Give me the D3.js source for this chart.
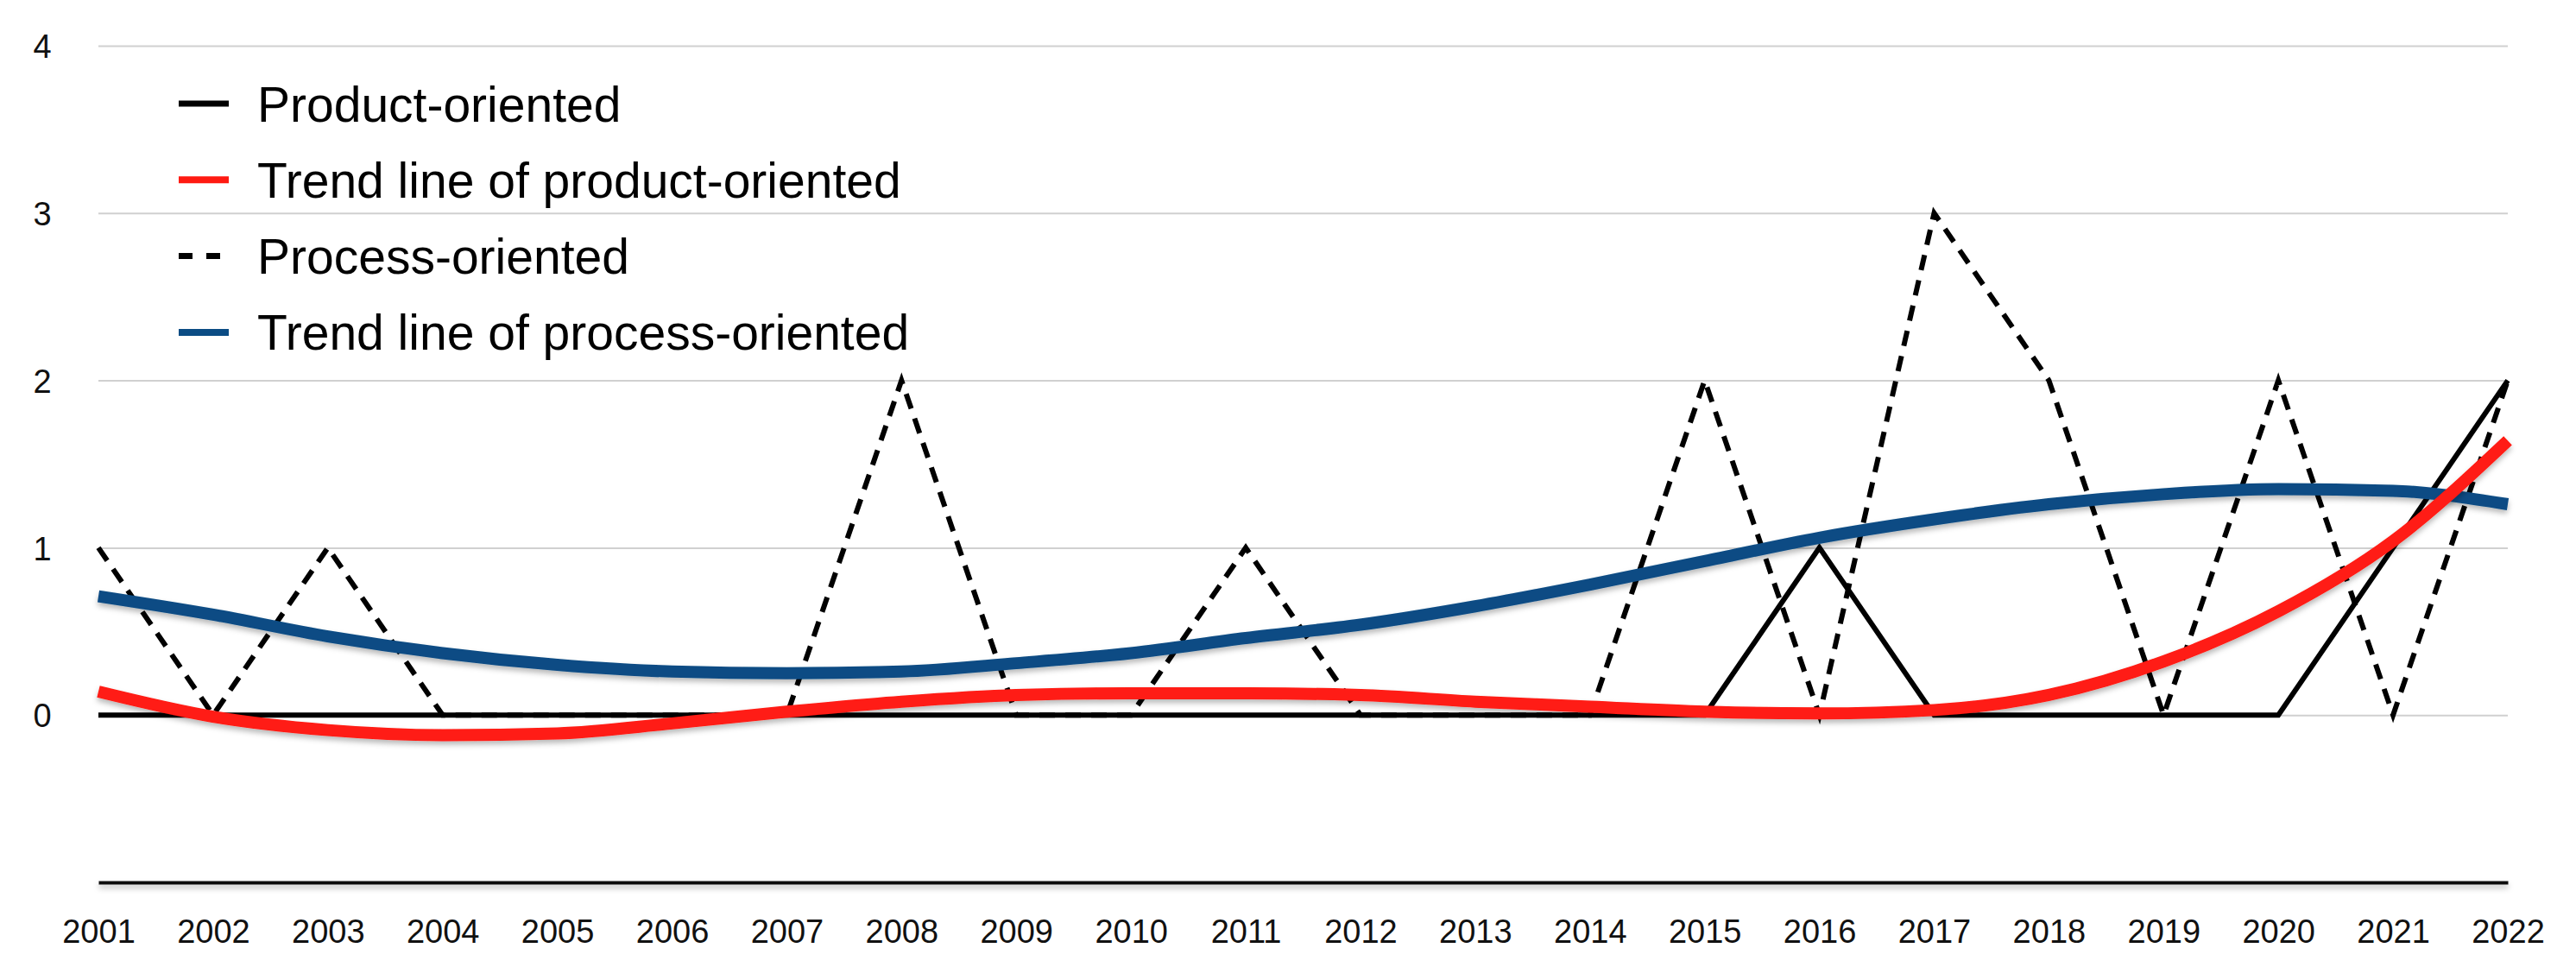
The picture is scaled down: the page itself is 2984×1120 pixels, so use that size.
<!DOCTYPE html>
<html>
<head>
<meta charset="utf-8">
<script src="https://cdn.jsdelivr.net/npm/d3@7"></script>
<style>
  body { margin: 0; background: #fff; }
  svg { display: block; }
</style>
</head>
<body>
<div id="wrapper"></div>
<script>
/*global d3*/

const years = ["2001", "2002", "2003", "2004", "2005", "2006", "2007", "2008", "2009", "2010", "2011",
    "2012", "2013", "2014", "2015", "2016", "2017", "2018", "2019", "2020", "2021", "2022"]

const productOriented = [0, 0, 0, 0, 0, 0, 0, 0, 0, 0, 0, 0, 0, 0, 0, 1, 0, 0, 0, 0, 1, 2]
const processOriented = [1, 0, 1, 0, 0, 0, 0, 2, 0, 0, 1, 0, 0, 0, 2, 0, 3, 2, 0, 2, 0, 2]

// trend lines
const productTrend = [0.14, -0.01, -0.09, -0.12, -0.11, -0.05, 0.02, 0.08, 0.12, 0.13, 0.13,
    0.12, 0.08, 0.05, 0.02, 0.01, 0.03, 0.12, 0.32, 0.62, 1.04, 1.64]
const processTrend = [0.71, 0.60, 0.47, 0.37, 0.30, 0.26, 0.25, 0.26, 0.31, 0.37, 0.46,
    0.54, 0.65, 0.78, 0.92, 1.06, 1.17, 1.26, 1.32, 1.35, 1.34, 1.26]

const yTicks = [0, 1, 2, 3, 4]

const legendItems = [
    { label: "Product-oriented", key: "product" },
    { label: "Trend line of product-oriented", key: "productTrend" },
    { label: "Process-oriented", key: "process" },
    { label: "Trend line of process-oriented", key: "processTrend" },
]

function drawChart() {

    const dims = {
        width: 2984,
        height: 1120,
        margin: { top: 53, right: 79, bottom: 98, left: 114 },
    }
    dims.boundedWidth = dims.width - dims.margin.left - dims.margin.right
    dims.boundedHeight = dims.height - dims.margin.top - dims.margin.bottom

    const font = "'Liberation Sans', Arial, Helvetica, sans-serif"

    const styles = {
        product: { stroke: "#000", width: 6, dash: null },
        productTrend: { stroke: "#ff1a12", width: 14, dash: null },
        process: { stroke: "#000", width: 6, dash: "18 12" },
        processTrend: { stroke: "#0b4c84", width: 14, dash: null },
    }

    const wrapper = d3.select("#wrapper")
        .append("svg")
        .attr("width", dims.width)
        .attr("height", dims.height)

    const defs = wrapper.append("defs")
    const shadow = defs.append("filter")
        .attr("id", "shadow")
        .attr("filterUnits", "userSpaceOnUse")
        .attr("x", -300).attr("y", -300)
        .attr("width", 3600).attr("height", 1800)
    shadow.append("feDropShadow")
        .attr("dx", 0).attr("dy", 4)
        .attr("stdDeviation", 3)
        .attr("flood-color", "#000")
        .attr("flood-opacity", 0.28)

    const bounds = wrapper.append("g")
        .attr("transform", `translate(${dims.margin.left},${dims.margin.top})`)

    const xScale = d3.scalePoint()
        .domain(years)
        .range([0, dims.boundedWidth])
        .padding(0)

    const yScale = d3.scaleLinear()
        .domain([-1, 4])
        .range([dims.boundedHeight, 0])

    // grid + y labels
    const yAxis = bounds.append("g")
        .call(d3.axisLeft(yScale)
            .tickValues(yTicks)
            .tickSize(-dims.boundedWidth)
            .tickFormat(d3.format("d")))
    yAxis.select(".domain").remove()
    yAxis.selectAll(".tick line")
        .attr("stroke", "#d0d0d0")
        .attr("stroke-width", 2)
    yAxis.selectAll(".tick text")
        .attr("x", -65)
        .attr("dy", "0.36em")
        .style("text-anchor", "middle")
        .style("font-family", font)
        .style("font-size", "38px")
        .attr("fill", "#111")

    // x axis line sits at -1
    const xAxis = bounds.append("g")
        .attr("transform", `translate(0,${yScale(-1)})`)
        .call(d3.axisBottom(xScale).tickSize(0).tickSizeOuter(0))
    xAxis.select(".domain")
        .attr("stroke", "#111")
        .attr("stroke-width", 4)
        .attr("filter", "url(#shadow)")
    xAxis.selectAll(".tick text")
        .attr("y", 56)
        .attr("dy", "0.36em")
        .style("font-family", font)
        .style("font-size", "38px")
        .attr("fill", "#111")

    const series = {
        product: productOriented,
        productTrend: productTrend,
        process: processOriented,
        processTrend: processTrend,
    }

    const straightLine = d3.line()
        .x((d, i) => xScale(years[i]))
        .y(d => yScale(d))

    const smoothLine = d3.line()
        .x((d, i) => xScale(years[i]))
        .y(d => yScale(d))
        .curve(d3.curveMonotoneX)

    const drawOrder = ["product", "process", "processTrend", "productTrend"]
    drawOrder.forEach(key => {
        const s = styles[key]
        const isTrend = key.endsWith("Trend")
        bounds.append("path")
            .datum(series[key])
            .attr("d", isTrend ? smoothLine : straightLine)
            .attr("fill", "none")
            .attr("stroke", s.stroke)
            .attr("stroke-width", s.width)
            .attr("stroke-dasharray", s.dash)
            .attr("stroke-linejoin", isTrend ? "round" : "miter")
            .attr("filter", isTrend ? "url(#shadow)" : null)
    })

    // legend
    const legend = wrapper.append("g")
        .attr("transform", "translate(207,120)")

    const legendRows = legend.selectAll("g")
        .data(legendItems)
        .join("g")
        .attr("transform", (d, i) => `translate(0,${i * 88.3})`)

    legendRows.append("line")
        .attr("x1", 0)
        .attr("x2", d => d.key === "process" ? 50 : 58)
        .attr("stroke", d => styles[d.key].stroke)
        .attr("stroke-width", d => d.key.endsWith("Trend") ? 8 : 7)
        .attr("stroke-dasharray", d => d.key === "process" ? "16 16" : null)

    legendRows.append("text")
        .attr("x", 91)
        .attr("dy", "0.36em")
        .text(d => d.label)
        .style("font-family", font)
        .style("font-size", "57px")
        .attr("fill", "#000")
}

drawChart()
</script>
</body>
</html>
